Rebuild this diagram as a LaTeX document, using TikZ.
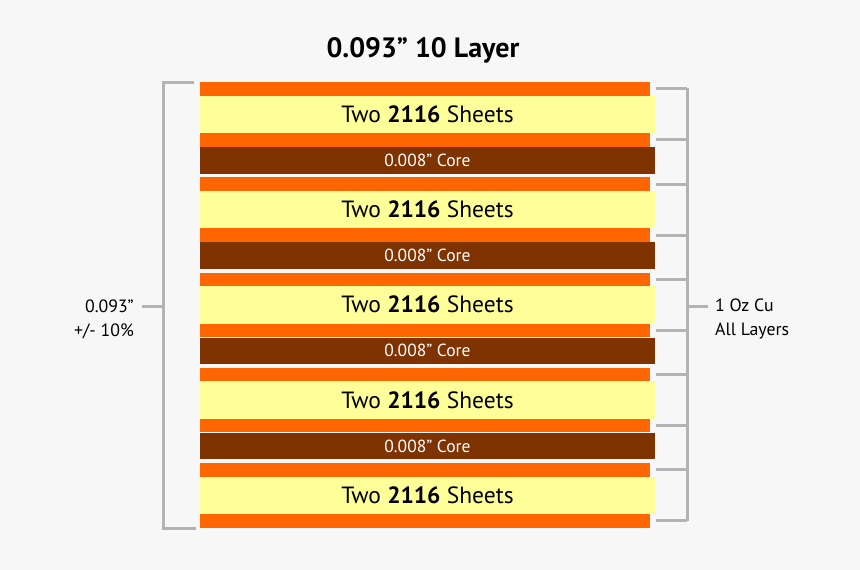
\documentclass[tikz,border=0pt]{standalone}
\usepackage{fontspec}
\setmainfont{PT Sans}
\definecolor{bgc}{HTML}{F7F7F7}
\definecolor{cu}{HTML}{FF6600}
\definecolor{pp}{HTML}{FFFF99}
\definecolor{core}{HTML}{7F3300}
\definecolor{brk}{HTML}{B3B3B6}
\tikzset{
  lay/.style={rectangle, inner sep=0pt, outer sep=0pt, anchor=north west},
  cuL/.style={lay, fill=cu, minimum width=450pt, minimum height=13.5pt},
  ppL/.style={lay, fill=pp, minimum width=455pt, minimum height=37.5pt, font=\fontsize{23.5}{26}\selectfont},
  coreL/.style={lay, fill=core, minimum width=455pt, minimum height=26.5pt, text=white, font=\fontsize{17.5}{20}\selectfont},
  brline/.style={draw=brk, line width=3pt},
  lbl/.style={font=\fontsize{17.8}{24}\selectfont, inner sep=0pt}
}
\begin{document}
\begin{tikzpicture}[x=1pt,y=-1pt]
\fill[bgc] (0,0) rectangle (860,570);
\useasboundingbox (0,0) rectangle (860,570);
\node[font=\bfseries\fontsize{28}{32}\selectfont] (title) at (423,50) {0.093” 10 Layer};
% layers
\foreach \i in {0,...,4}{
  \pgfmathsetmacro{\yz}{82+95.25*\i}
  \node[cuL] (ca\i) at (200,\yz) {};
  \node[ppL] (p\i) at (200,\yz+13.5) {\raisebox{-2.5pt}{Two \textbf{2116} Sheets}};
  \node[cuL] (cb\i) at (200,\yz+51) {};
}
\foreach \i in {0,...,3}{
  \pgfmathsetmacro{\yz}{82+95.25*\i}
  \node[coreL] (k\i) at (200,\yz+65) {\raisebox{-2.5pt}{0.008” Core}};
}
% left bracket
\coordinate (lt) at (194,82);
\coordinate (lb) at (196,528);
\coordinate (lm) at (163,306);
\coordinate (lx) at (142,306);
\draw[brline] (lt) -- (lt -| lm) -- (lb -| lm) -- (lb);
\draw[brline] (lm) -- (lx);
\node[lbl, anchor=east, align=right] (thick) at (134,319) {0.093”\\+/- 10\%};
% right bracket
\coordinate (rt) at (687,88);
\coordinate (rb) at (687,521);
\coordinate (rm) at (687,306);
\coordinate (rx) at (708,306);
\draw[brline] (rt) -- (rb);
\foreach \i in {0,...,4}{
  \draw[brline] ([xshift=6pt]ca\i.east) -- (ca\i.east -| rt);
  \draw[brline] ([xshift=6pt]cb\i.east) -- (cb\i.east -| rt);
}
\draw[brline] (rm) -- (rx);
\node[lbl, anchor=west, align=left] (cuw) at (715,319) {1 Oz Cu\\All Layers};
\end{tikzpicture}
\end{document}
